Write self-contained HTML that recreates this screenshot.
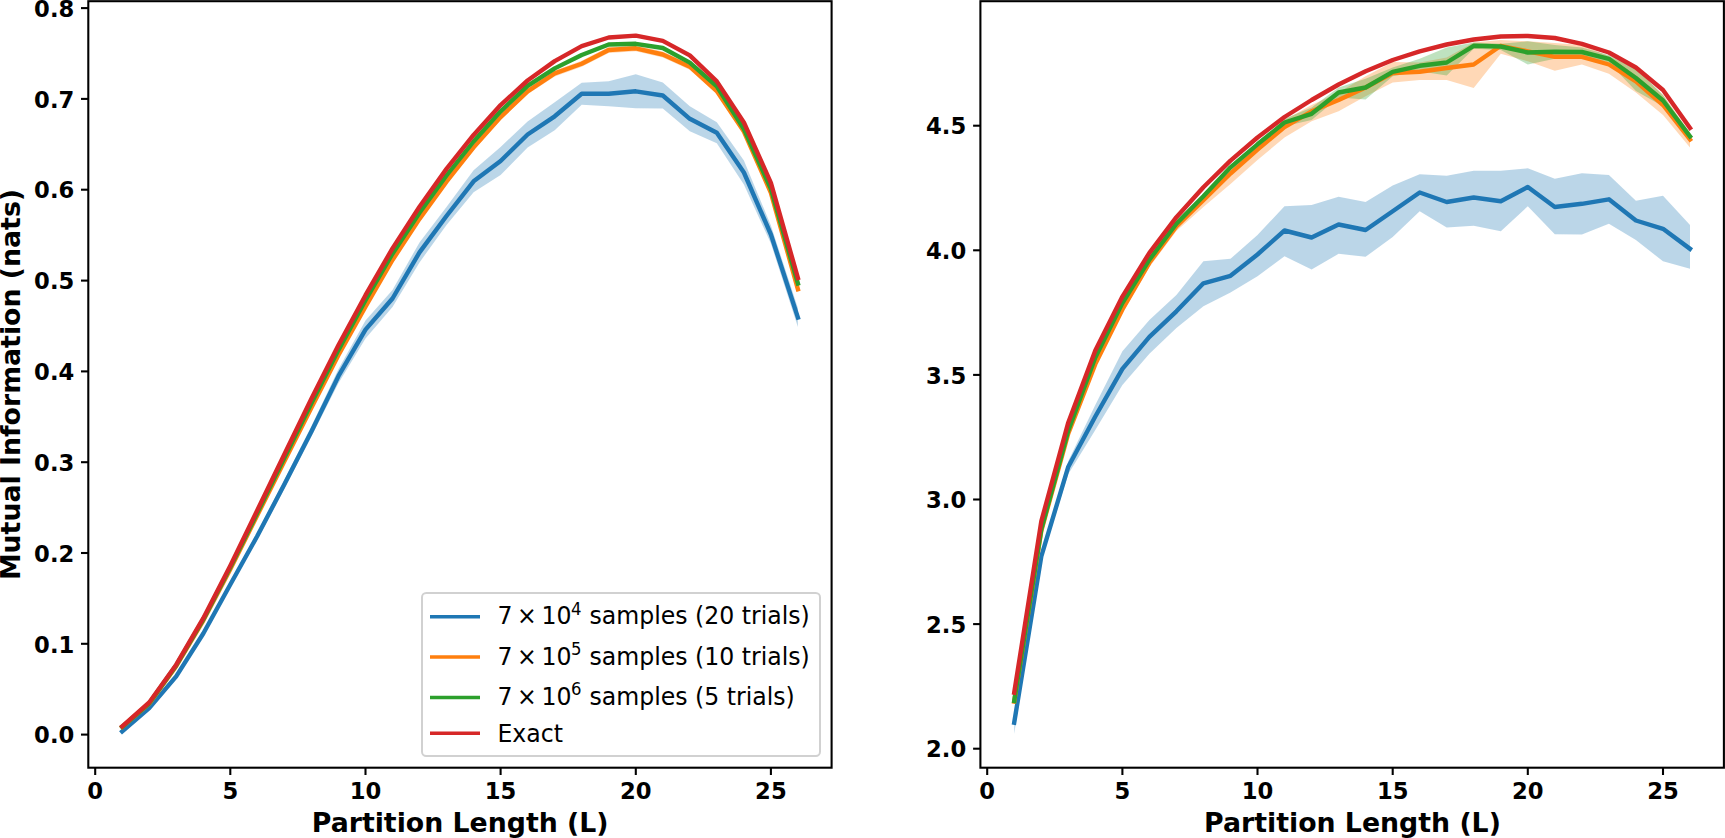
<!DOCTYPE html>
<html><head><meta charset="utf-8"><title>Mutual Information vs Partition Length</title>
<style>html,body{margin:0;padding:0;background:#fff;overflow:hidden}svg{display:block}</style></head>
<body>
<svg width="1725" height="838" viewBox="0 0 1725 838" role="img" aria-label="Mutual information versus partition length">
<rect width="1725" height="838" fill="#fff"/>
<g id="left-plot">
<polygon points="122.2,729.9 149.2,706.7 176.2,674.4 203.3,631.3 230.3,581.7 257.3,532.5 284.4,479.8 311.4,426.2 338.4,369.2 365.5,320.6 392.5,290.0 419.5,242.4 446.5,207.0 473.6,170.3 500.6,147.0 527.6,121.5 554.7,102.3 581.7,82.8 608.7,81.3 635.8,74.3 662.8,82.5 689.8,106.3 716.8,122.3 743.9,160.5 770.9,225.5 797.9,308.1 797.9,327.1 770.9,243.5 743.9,184.5 716.8,143.3 689.8,131.3 662.8,108.5 635.8,108.3 608.7,106.3 581.7,104.8 554.7,130.3 527.6,147.5 500.6,175.0 473.6,192.3 446.5,225.0 419.5,262.4 392.5,307.0 365.5,338.6 338.4,383.2 311.4,436.6 284.4,488.8 257.3,539.5 230.3,587.3 203.3,635.7 176.2,678.4 149.2,709.7 122.2,732.9" fill="#1f77b4" fill-opacity="0.3"/>
<polygon points="122.2,726.2 149.2,702.9 176.2,665.3 203.3,619.8 230.3,568.4 257.3,514.5 284.4,459.8 311.4,406.3 338.4,353.8 365.5,305.1 392.5,258.5 419.5,217.4 446.5,180.2 473.6,144.4 500.6,114.1 527.6,88.3 554.7,70.4 581.7,60.8 608.7,47.0 635.8,45.3 662.8,51.5 689.8,63.7 716.8,88.0 743.9,128.5 770.9,189.8 797.9,286.2 797.9,292.2 770.9,195.8 743.9,134.5 716.8,94.0 689.8,69.7 662.8,57.5 635.8,51.3 608.7,53.0 581.7,66.8 554.7,76.4 527.6,94.3 500.6,120.1 473.6,150.4 446.5,183.2 419.5,220.4 392.5,261.5 365.5,308.1 338.4,356.8 311.4,409.3 284.4,462.8 257.3,516.1 230.3,570.0 203.3,621.4 176.2,666.9 149.2,704.5 122.2,727.8" fill="#ff7f0e" fill-opacity="0.3"/>
<polygon points="122.2,726.3 149.2,702.8 176.2,664.9 203.3,618.9 230.3,566.8 257.3,512.3 284.4,457.3 311.4,402.8 338.4,349.6 365.5,299.7 392.5,253.2 419.5,212.2 446.5,175.0 473.6,141.0 500.6,110.8 527.6,85.4 554.7,67.9 581.7,54.5 608.7,44.0 635.8,43.3 662.8,47.5 689.8,62.1 716.8,85.9 743.9,128.5 770.9,188.3 797.9,283.1 797.9,284.1 770.9,189.3 743.9,129.5 716.8,86.9 689.8,63.1 662.8,48.5 635.8,44.3 608.7,45.0 581.7,55.5 554.7,68.9 527.6,86.4 500.6,111.8 473.6,142.0 446.5,176.0 419.5,213.2 392.5,254.2 365.5,300.7 338.4,350.6 311.4,403.8 284.4,458.3 257.3,513.3 230.3,567.8 203.3,619.9 176.2,665.9 149.2,703.8 122.2,727.3" fill="#2ca02c" fill-opacity="0.3"/>
<polyline points="122.2,731.4 149.2,708.2 176.2,676.4 203.3,633.5 230.3,584.5 257.3,536.0 284.4,484.3 311.4,431.4 338.4,376.2 365.5,329.6 392.5,298.5 419.5,252.4 446.5,216.0 473.6,181.3 500.6,161.0 527.6,134.5 554.7,116.3 581.7,93.8 608.7,93.8 635.8,91.3 662.8,95.5 689.8,118.8 716.8,132.8 743.9,172.5 770.9,234.5 797.9,317.6" fill="none" stroke="#1f77b4" stroke-width="4.4" stroke-linejoin="round" stroke-linecap="square"/>
<polyline points="122.2,727.0 149.2,703.7 176.2,666.1 203.3,620.6 230.3,569.2 257.3,515.3 284.4,461.3 311.4,407.8 338.4,355.3 365.5,306.6 392.5,260.0 419.5,218.9 446.5,181.7 473.6,147.4 500.6,117.1 527.6,91.3 554.7,73.4 581.7,63.8 608.7,50.0 635.8,48.3 662.8,54.5 689.8,66.7 716.8,91.0 743.9,131.5 770.9,192.8 797.9,289.2" fill="none" stroke="#ff7f0e" stroke-width="4.4" stroke-linejoin="round" stroke-linecap="square"/>
<polyline points="122.2,726.8 149.2,703.3 176.2,665.4 203.3,619.4 230.3,567.3 257.3,512.8 284.4,457.8 311.4,403.3 338.4,350.1 365.5,300.2 392.5,253.7 419.5,212.7 446.5,175.5 473.6,141.5 500.6,111.3 527.6,85.9 554.7,68.4 581.7,55.0 608.7,44.5 635.8,43.8 662.8,48.0 689.8,62.6 716.8,86.4 743.9,129.0 770.9,188.8 797.9,283.6" fill="none" stroke="#2ca02c" stroke-width="4.4" stroke-linejoin="round" stroke-linecap="square"/>
<polyline points="122.2,726.3 149.2,702.5 176.2,664.7 203.3,618.2 230.3,565.7 257.3,510.3 284.4,454.3 311.4,398.8 338.4,345.3 365.5,295.2 392.5,248.4 419.5,206.7 446.5,168.9 473.6,134.9 500.6,105.1 527.6,80.5 554.7,61.1 581.7,46.1 608.7,37.5 635.8,35.6 662.8,40.9 689.8,55.4 716.8,81.4 743.9,122.5 770.9,182.8 797.9,278.0" fill="none" stroke="#d62728" stroke-width="4.4" stroke-linejoin="round" stroke-linecap="square"/>
</g>
<g id="right-plot">
<polygon points="1014.2,714.0 1041.3,553.0 1068.3,461.0 1095.3,405.0 1122.4,351.3 1149.4,320.0 1176.4,295.0 1203.4,261.3 1230.5,258.8 1257.5,235.0 1284.5,206.3 1311.6,205.0 1338.6,196.8 1365.6,202.0 1392.7,185.5 1419.7,174.3 1446.7,175.8 1473.7,170.8 1500.8,170.8 1527.8,168.3 1554.8,178.8 1581.9,173.3 1608.9,175.0 1635.9,200.8 1663.0,195.8 1690.0,225.0 1690.0,268.8 1663.0,261.3 1635.9,240.0 1608.9,223.8 1581.9,234.5 1554.8,234.3 1527.8,206.3 1500.8,231.3 1473.7,225.8 1446.7,227.5 1419.7,211.3 1392.7,237.0 1365.6,256.8 1338.6,253.8 1311.6,269.5 1284.5,256.3 1257.5,276.3 1230.5,292.5 1203.4,306.3 1176.4,328.0 1149.4,353.8 1122.4,385.0 1095.3,430.0 1068.3,474.0 1041.3,560.0 1014.2,734.0" fill="#1f77b4" fill-opacity="0.3"/>
<polygon points="1014.2,699.6 1041.3,528.8 1068.3,431.4 1095.3,362.1 1122.4,307.4 1149.4,260.8 1176.4,224.4 1203.4,196.0 1230.5,167.5 1257.5,143.5 1284.5,120.0 1311.6,105.0 1338.6,92.5 1365.6,76.3 1392.7,62.0 1419.7,62.5 1446.7,57.5 1473.7,42.5 1500.8,40.0 1527.8,41.3 1554.8,43.0 1581.9,45.0 1608.9,56.3 1635.9,68.8 1663.0,95.0 1690.0,132.5 1690.0,147.5 1663.0,115.0 1635.9,92.5 1608.9,73.8 1581.9,64.5 1554.8,70.8 1527.8,61.3 1500.8,53.8 1473.7,88.0 1446.7,80.0 1419.7,80.0 1392.7,82.5 1365.6,96.3 1338.6,111.3 1311.6,121.3 1284.5,137.5 1257.5,160.0 1230.5,184.0 1203.4,207.0 1176.4,231.0 1149.4,267.1 1122.4,313.3 1095.3,367.7 1068.3,436.6 1041.3,533.6 1014.2,704.1" fill="#ff7f0e" fill-opacity="0.3"/>
<polygon points="1014.2,700.0 1041.3,528.3 1068.3,429.4 1095.3,356.6 1122.4,302.1 1149.4,258.6 1176.4,222.6 1203.4,195.2 1230.5,166.3 1257.5,143.3 1284.5,118.8 1311.6,107.5 1338.6,87.5 1365.6,78.8 1392.7,67.5 1419.7,58.8 1446.7,47.5 1473.7,42.5 1500.8,43.8 1527.8,41.3 1554.8,45.0 1581.9,47.5 1608.9,55.0 1635.9,68.0 1663.0,95.0 1690.0,133.8 1690.0,138.8 1663.0,106.3 1635.9,91.0 1608.9,62.5 1581.9,56.3 1554.8,58.8 1527.8,64.5 1500.8,50.0 1473.7,48.8 1446.7,75.5 1419.7,71.3 1392.7,76.3 1365.6,99.5 1338.6,97.5 1311.6,120.0 1284.5,126.3 1257.5,145.3 1230.5,168.3 1203.4,197.2 1176.4,224.6 1149.4,260.6 1122.4,304.1 1095.3,358.6 1068.3,431.4 1041.3,530.3 1014.2,702.0" fill="#2ca02c" fill-opacity="0.3"/>
<polyline points="1014.2,722.7 1041.3,556.3 1068.3,466.7 1095.3,416.5 1122.4,368.8 1149.4,336.8 1176.4,311.3 1203.4,283.3 1230.5,275.8 1257.5,254.5 1284.5,230.5 1311.6,237.5 1338.6,224.5 1365.6,230.0 1392.7,211.3 1419.7,192.5 1446.7,202.0 1473.7,197.5 1500.8,201.3 1527.8,187.0 1554.8,207.0 1581.9,203.8 1608.9,199.3 1635.9,220.5 1663.0,228.8 1690.0,248.8" fill="none" stroke="#1f77b4" stroke-width="4.4" stroke-linejoin="round" stroke-linecap="square"/>
<polyline points="1014.2,701.6 1041.3,530.8 1068.3,433.4 1095.3,364.1 1122.4,309.4 1149.4,262.8 1176.4,226.4 1203.4,200.2 1230.5,173.5 1257.5,149.5 1284.5,127.0 1311.6,111.3 1338.6,100.0 1365.6,87.5 1392.7,73.0 1419.7,71.8 1446.7,68.0 1473.7,64.5 1500.8,45.8 1527.8,51.3 1554.8,56.8 1581.9,56.8 1608.9,64.5 1635.9,81.3 1663.0,105.0 1690.0,139.5" fill="none" stroke="#ff7f0e" stroke-width="4.4" stroke-linejoin="round" stroke-linecap="square"/>
<polyline points="1014.2,701.0 1041.3,529.3 1068.3,430.4 1095.3,357.6 1122.4,303.1 1149.4,259.6 1176.4,223.6 1203.4,196.2 1230.5,167.3 1257.5,144.3 1284.5,122.5 1311.6,113.8 1338.6,92.5 1365.6,87.5 1392.7,71.8 1419.7,65.8 1446.7,62.5 1473.7,45.8 1500.8,46.5 1527.8,52.5 1554.8,51.8 1581.9,52.0 1608.9,58.8 1635.9,78.0 1663.0,100.5 1690.0,136.3" fill="none" stroke="#2ca02c" stroke-width="4.4" stroke-linejoin="round" stroke-linecap="square"/>
<polyline points="1014.2,692.7 1041.3,521.3 1068.3,422.4 1095.3,350.6 1122.4,296.6 1149.4,252.8 1176.4,217.2 1203.4,187.2 1230.5,160.6 1257.5,137.5 1284.5,117.0 1311.6,100.0 1338.6,84.5 1365.6,71.3 1392.7,60.0 1419.7,51.3 1446.7,44.5 1473.7,39.5 1500.8,36.5 1527.8,36.0 1554.8,38.0 1581.9,43.8 1608.9,52.5 1635.9,67.5 1663.0,90.0 1690.0,128.0" fill="none" stroke="#d62728" stroke-width="4.4" stroke-linejoin="round" stroke-linecap="square"/>
</g>
<rect x="88.3" y="1.2" width="743.3000000000001" height="766.5" fill="none" stroke="#000" stroke-width="2.08"/>
<rect x="980.4" y="1.2" width="743.5000000000001" height="766.5" fill="none" stroke="#000" stroke-width="2.08"/>
<g font-family="DejaVu Sans, Liberation Sans, sans-serif" font-weight="bold" font-size="22.7" fill="#000">
<line x1="95.2" y1="767.7" x2="95.2" y2="775.0" stroke="#000" stroke-width="2.08"/>
<text transform="translate(95.2,799.3) scale(1,1.035)" text-anchor="middle">0</text>
<line x1="230.3" y1="767.7" x2="230.3" y2="775.0" stroke="#000" stroke-width="2.08"/>
<text transform="translate(230.3,799.3) scale(1,1.035)" text-anchor="middle">5</text>
<line x1="365.5" y1="767.7" x2="365.5" y2="775.0" stroke="#000" stroke-width="2.08"/>
<text transform="translate(365.5,799.3) scale(1,1.035)" text-anchor="middle">10</text>
<line x1="500.6" y1="767.7" x2="500.6" y2="775.0" stroke="#000" stroke-width="2.08"/>
<text transform="translate(500.6,799.3) scale(1,1.035)" text-anchor="middle">15</text>
<line x1="635.8" y1="767.7" x2="635.8" y2="775.0" stroke="#000" stroke-width="2.08"/>
<text transform="translate(635.8,799.3) scale(1,1.035)" text-anchor="middle">20</text>
<line x1="770.9" y1="767.7" x2="770.9" y2="775.0" stroke="#000" stroke-width="2.08"/>
<text transform="translate(770.9,799.3) scale(1,1.035)" text-anchor="middle">25</text>
<line x1="987.2" y1="767.7" x2="987.2" y2="775.0" stroke="#000" stroke-width="2.08"/>
<text transform="translate(987.2,799.3) scale(1,1.035)" text-anchor="middle">0</text>
<line x1="1122.4" y1="767.7" x2="1122.4" y2="775.0" stroke="#000" stroke-width="2.08"/>
<text transform="translate(1122.4,799.3) scale(1,1.035)" text-anchor="middle">5</text>
<line x1="1257.5" y1="767.7" x2="1257.5" y2="775.0" stroke="#000" stroke-width="2.08"/>
<text transform="translate(1257.5,799.3) scale(1,1.035)" text-anchor="middle">10</text>
<line x1="1392.7" y1="767.7" x2="1392.7" y2="775.0" stroke="#000" stroke-width="2.08"/>
<text transform="translate(1392.7,799.3) scale(1,1.035)" text-anchor="middle">15</text>
<line x1="1527.8" y1="767.7" x2="1527.8" y2="775.0" stroke="#000" stroke-width="2.08"/>
<text transform="translate(1527.8,799.3) scale(1,1.035)" text-anchor="middle">20</text>
<line x1="1663.0" y1="767.7" x2="1663.0" y2="775.0" stroke="#000" stroke-width="2.08"/>
<text transform="translate(1663.0,799.3) scale(1,1.035)" text-anchor="middle">25</text>
<line x1="81.0" y1="734.6" x2="88.3" y2="734.6" stroke="#000" stroke-width="2.08"/>
<text transform="translate(74.3,743.3) scale(1,1.035)" text-anchor="end">0.0</text>
<line x1="81.0" y1="643.8" x2="88.3" y2="643.8" stroke="#000" stroke-width="2.08"/>
<text transform="translate(74.3,652.5) scale(1,1.035)" text-anchor="end">0.1</text>
<line x1="81.0" y1="553.0" x2="88.3" y2="553.0" stroke="#000" stroke-width="2.08"/>
<text transform="translate(74.3,561.7) scale(1,1.035)" text-anchor="end">0.2</text>
<line x1="81.0" y1="462.2" x2="88.3" y2="462.2" stroke="#000" stroke-width="2.08"/>
<text transform="translate(74.3,470.9) scale(1,1.035)" text-anchor="end">0.3</text>
<line x1="81.0" y1="371.4" x2="88.3" y2="371.4" stroke="#000" stroke-width="2.08"/>
<text transform="translate(74.3,380.1) scale(1,1.035)" text-anchor="end">0.4</text>
<line x1="81.0" y1="280.6" x2="88.3" y2="280.6" stroke="#000" stroke-width="2.08"/>
<text transform="translate(74.3,289.2) scale(1,1.035)" text-anchor="end">0.5</text>
<line x1="81.0" y1="189.7" x2="88.3" y2="189.7" stroke="#000" stroke-width="2.08"/>
<text transform="translate(74.3,198.4) scale(1,1.035)" text-anchor="end">0.6</text>
<line x1="81.0" y1="98.9" x2="88.3" y2="98.9" stroke="#000" stroke-width="2.08"/>
<text transform="translate(74.3,107.6) scale(1,1.035)" text-anchor="end">0.7</text>
<line x1="81.0" y1="8.1" x2="88.3" y2="8.1" stroke="#000" stroke-width="2.08"/>
<text transform="translate(74.3,16.8) scale(1,1.035)" text-anchor="end">0.8</text>
<line x1="973.1" y1="748.7" x2="980.4" y2="748.7" stroke="#000" stroke-width="2.08"/>
<text transform="translate(966.2,757.4) scale(1,1.035)" text-anchor="end">2.0</text>
<line x1="973.1" y1="624.1" x2="980.4" y2="624.1" stroke="#000" stroke-width="2.08"/>
<text transform="translate(966.2,632.8) scale(1,1.035)" text-anchor="end">2.5</text>
<line x1="973.1" y1="499.5" x2="980.4" y2="499.5" stroke="#000" stroke-width="2.08"/>
<text transform="translate(966.2,508.2) scale(1,1.035)" text-anchor="end">3.0</text>
<line x1="973.1" y1="374.9" x2="980.4" y2="374.9" stroke="#000" stroke-width="2.08"/>
<text transform="translate(966.2,383.6) scale(1,1.035)" text-anchor="end">3.5</text>
<line x1="973.1" y1="250.3" x2="980.4" y2="250.3" stroke="#000" stroke-width="2.08"/>
<text transform="translate(966.2,259.0) scale(1,1.035)" text-anchor="end">4.0</text>
<line x1="973.1" y1="125.7" x2="980.4" y2="125.7" stroke="#000" stroke-width="2.08"/>
<text transform="translate(966.2,134.4) scale(1,1.035)" text-anchor="end">4.5</text>
</g>
<g font-family="DejaVu Sans, Liberation Sans, sans-serif" font-weight="bold" font-size="26.75" fill="#000">
<text x="460.2" y="832.3" text-anchor="middle">Partition Length (L)</text>
<text x="1352.5" y="832.3" text-anchor="middle">Partition Length (L)</text>
<text transform="translate(20.2,384.5) rotate(-90)" text-anchor="middle">Mutual Information (nats)</text>
</g>
<g id="legend">
<rect x="422" y="593" width="398" height="163" rx="4.2" ry="4.2" fill="#fff" fill-opacity="0.8" stroke="#cccccc" stroke-opacity="0.9" stroke-width="2"/>
<g font-family="DejaVu Sans, Liberation Sans, sans-serif" font-size="23.6" fill="#000">
<line x1="430" y1="616.8" x2="480" y2="616.8" stroke="#1f77b4" stroke-width="3.5"/>
<text transform="translate(497.4,624.0) scale(1,1.03)">7<tspan dx="4.5">×</tspan><tspan dx="4.9">10</tspan><tspan dx="-0.6" dy="-9.1" font-size="16.5">4</tspan><tspan dx="0.5" dy="9.1"> samples (20 trials)</tspan></text>
<line x1="430" y1="657.1" x2="480" y2="657.1" stroke="#ff7f0e" stroke-width="3.5"/>
<text transform="translate(497.4,664.5) scale(1,1.03)">7<tspan dx="4.5">×</tspan><tspan dx="4.9">10</tspan><tspan dx="-0.6" dy="-9.1" font-size="16.5">5</tspan><tspan dx="0.5" dy="9.1"> samples (10 trials)</tspan></text>
<line x1="430" y1="697.4" x2="480" y2="697.4" stroke="#2ca02c" stroke-width="3.5"/>
<text transform="translate(497.4,704.8) scale(1,1.03)">7<tspan dx="4.5">×</tspan><tspan dx="4.9">10</tspan><tspan dx="-0.6" dy="-9.1" font-size="16.5">6</tspan><tspan dx="0.5" dy="9.1"> samples (5 trials)</tspan></text>
<line x1="430" y1="733.2" x2="480" y2="733.2" stroke="#d62728" stroke-width="3.5"/>
<text transform="translate(497.4,741.6) scale(1,1.03)">Exact</text>
</g></g>
</svg>
</body></html>
